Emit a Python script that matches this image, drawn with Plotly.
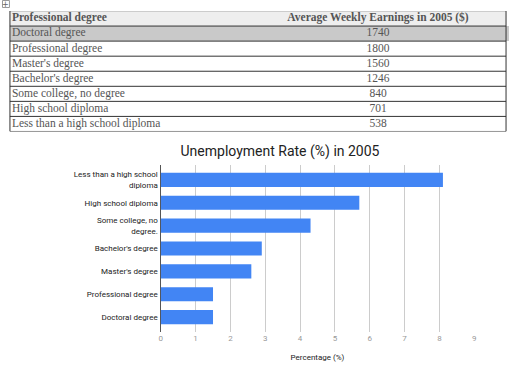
import plotly.graph_objects as go

W, H = 512, 378

# ---- data ----
degrees = ["Doctoral degree", "Professional degree", "Master's degree", "Bachelor's degree",
           "Some college, no degree", "High school diploma", "Less than a high school diploma"]
earnings = [1740, 1800, 1560, 1246, 840, 701, 538]
table_headers = ["Professional degree", "Average Weekly Earnings in 2005 ($)"]

chart_labels = ["Doctoral degree", "Professional degree", "Master's degree", "Bachelor's degree",
                "Some college, no<br>degree.", "High school diploma", "Less than a high school<br>diploma"]
unemployment = [1.5, 1.5, 2.6, 2.9, 4.3, 5.7, 8.1]
x_ticks = [0, 1, 2, 3, 4, 5, 6, 7, 8, 9]

# ---- layout geometry (pixels) ----
tbl_left, tbl_right = 8, 508
tbl_top = 11
row_h = 15.06
n_rows = len(degrees) + 1
tbl_bottom = tbl_top + n_rows * row_h
col1_x = 2          # text inset of the first column (table units = px from left border)
col2_x = 371        # centre of the second column


def px(x):
    return x / W


def py(y):
    return 1 - y / H


fig = go.Figure()

# ---- table drawn on its own hidden axes ----
row_centres = [i + 0.5 for i in range(n_rows)]
col1_text = ["<b>%s</b>" % table_headers[0]] + degrees
col2_text = ["<b>%s</b>" % table_headers[1]] + [str(v) for v in earnings]

fig.add_trace(go.Scatter(
    x=[col1_x] * n_rows, y=row_centres, text=col1_text, mode="text",
    textposition="middle right", xaxis="x2", yaxis="y2",
    textfont=dict(family="Liberation Serif", size=11.5, color="#555555"),
    hoverinfo="skip", cliponaxis=False,
))
fig.add_trace(go.Scatter(
    x=[col2_x] * n_rows, y=row_centres, text=col2_text, mode="text",
    textposition="middle center", xaxis="x2", yaxis="y2",
    textfont=dict(family="Liberation Serif", size=11.5, color="#555555"),
    hoverinfo="skip", cliponaxis=False,
))

shapes = []
# row fills: header and the highlighted first data row
shapes.append(dict(type="rect", xref="paper", yref="y2", x0=px(tbl_left), x1=px(tbl_right),
                   y0=0, y1=1, fillcolor="#eeeeee", line=dict(width=0), layer="below"))
shapes.append(dict(type="rect", xref="paper", yref="y2", x0=px(tbl_left), x1=px(511),
                   y0=1, y1=2, fillcolor="#c9c9c9", line=dict(width=0), layer="below"))
for k in range(n_rows + 1):
    shapes.append(dict(type="line", xref="paper", yref="y2",
                       x0=px(tbl_left), x1=px(tbl_right), y0=k, y1=k,
                       line=dict(color="#aaaaaa" if k == 0 else "#333333", width=1)))
for xx in (tbl_left, tbl_right):
    shapes.append(dict(type="line", xref="paper", yref="y2",
                       x0=px(xx), x1=px(xx), y0=0, y1=n_rows,
                       line=dict(color="#333333", width=1)))
# small table move handle at the top-left corner
shapes.append(dict(type="rect", xref="paper", yref="paper", x0=px(0.5), x1=px(7.5),
                   y0=py(7.5), y1=py(0.5), line=dict(color="#999999", width=1),
                   fillcolor="white"))

# ---- bar chart ----
fig.add_trace(go.Bar(
    x=unemployment, y=chart_labels, orientation="h",
    marker=dict(color="#4285f4", line=dict(width=0)),
    width=0.62,
    xaxis="x", yaxis="y",
    hoverinfo="x+y",
))

plot_left, plot_right = 160, 476
plot_top, plot_bottom = 165, 332

fig.update_layout(
    width=W, height=H,
    margin=dict(l=0, r=0, t=0, b=0),
    paper_bgcolor="white", plot_bgcolor="white",
    showlegend=False,
    shapes=shapes,
    annotations=[dict(text="+", xref="paper", yref="paper", x=px(4), y=py(4),
                      showarrow=False, xanchor="center", yanchor="middle",
                      font=dict(family="DejaVu Sans", size=8, color="#666666"))],
    title=dict(text="Unemployment Rate (%) in 2005", x=px(280), xanchor="center",
               y=py(151), yanchor="middle",
               font=dict(family="Roboto", size=14, color="#222222")),
    xaxis=dict(domain=[px(plot_left), px(plot_right)], range=[0, 9],
               tickvals=x_ticks, showgrid=True, gridcolor="#cccccc", gridwidth=1,
               zeroline=True, zerolinecolor="#555555", zerolinewidth=1,
               tickfont=dict(family="Roboto", size=8, color="#999999"),
               title=dict(text="Percentage (%)", font=dict(family="Roboto", size=8, color="#222222"),
                          standoff=12),
               fixedrange=True),
    yaxis=dict(domain=[py(plot_bottom), py(plot_top)], range=[-0.65, 6.65],
               type="category", showgrid=False, zeroline=False,
               tickfont=dict(family="Roboto", size=8, color="#222222"),
               ticks="", ticklabelstandoff=2, fixedrange=True),
    xaxis2=dict(domain=[px(tbl_left), px(tbl_right)], range=[0, tbl_right - tbl_left],
                visible=False, fixedrange=True, anchor="y2"),
    yaxis2=dict(domain=[py(tbl_bottom), py(tbl_top)], range=[n_rows, 0],
                visible=False, fixedrange=True, anchor="x2"),
    bargap=0.38,
)

fig.write_html("out.html", config={"displayModeBar": False},
               post_script="document.body.style.margin='0';")
